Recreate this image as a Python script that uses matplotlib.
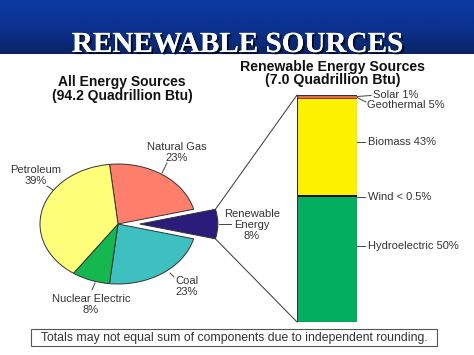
import matplotlib
matplotlib.use("Agg")
import matplotlib.pyplot as plt
import numpy as np
from matplotlib.patches import Rectangle, ConnectionPatch
from matplotlib.colors import LinearSegmentedColormap
import matplotlib.patheffects as pe

# ---- data ----
pie_labels = ["Natural Gas", "Renewable", "Coal", "Nuclear Electric", "Petroleum"]
pie_values = [23, 8, 23, 8, 39]
pie_colors = ["#FF7F6C", "#2B1B7A", "#3EC0C0", "#15B84E", "#FFFF7A"]
pie_explode = [0, 0.28, 0, 0, 0]

bar_segments = ["Hydroelectric", "Wind", "Biomass", "Geothermal", "Solar"]
bar_heights = [55.0, 0.8, 42.4, 0.6, 1.2]   # as drawn in picture
bar_colors = ["#02AF60", "#111111", "#FFF200", "#8A3A20", "#E8703C"]
bar_label_texts = ["Hydroelectric 50%", "Wind < 0.5%", "Biomass 43%", "Geothermal 5%", "Solar 1%"]

W, H = 474, 355
fig = plt.figure(figsize=(W / 100, H / 100), dpi=100)
fig.patch.set_facecolor("white")

# background axes in pixel coordinates
bg = fig.add_axes([0, 0, 1, 1])
bg.axis("off")
bg.set_zorder(0)

cmap = LinearSegmentedColormap.from_list("band", ["#0B3AA0", "#0B3290", "#0A2466"])
grad = np.linspace(0, 1, 100).reshape(-1, 1)
bg.imshow(grad, cmap=cmap, extent=[0, W, 54, 0], aspect="auto", zorder=0)
bg.set_xlim(0, W)
bg.set_ylim(H, 0)

bg.text(237, 44.5, "RENEWABLE SOURCES", color="white", fontsize=21, fontweight="bold",
        family="Liberation Serif", ha="center", va="center", zorder=5,
        path_effects=[pe.withSimplePatchShadow(offset=(1.5, -1.5), shadow_rgbFace="black", alpha=0.7),
                      pe.Normal()])

sans = "Liberation Sans"
bg.text(122, 89, "All Energy Sources\n(94.2 Quadrillion Btu)", fontsize=10.0, fontweight="bold",
        family=sans, ha="center", va="center", color="#111111", linespacing=0.95)
bg.text(333, 73.5, "Renewable Energy Sources\n(7.0 Quadrillion Btu)", fontsize=10.2, fontweight="bold",
        family=sans, ha="center", va="center", color="#111111", linespacing=0.95)

# pie labels
lab_kw = dict(fontsize=8.0, family=sans, ha="center", va="center", color="#333333", linespacing=1.12)
bg.text(177, 152.5, "Natural Gas\n23%", **lab_kw)
bg.text(36, 175.5, "Petroleum\n39%", **lab_kw)
bg.text(91, 304.5, "Nuclear Electric\n8%", **lab_kw)
bg.text(187, 286.5, "Coal\n23%", **lab_kw)
bg.text(252, 225, "Renewable\nEnergy\n8%", **lab_kw)
lk = dict(color="#444444", lw=0.7)
bg.plot([162, 167], [173, 163], **lk)
bg.plot([47, 53], [186, 190], **lk)
bg.plot([92, 95], [290, 283], **lk)
bg.plot([170, 174], [273, 277], **lk)
bg.plot([219, 231], [223.5, 223.5], **lk)

# footnote
bg.add_patch(Rectangle((31, 329), 406, 17, fill=False, edgecolor="#555555", lw=0.8))
bg.text(234, 337.8, "Totals may not equal sum of components due to independent rounding.",
        fontsize=8.8, family=sans, ha="center", va="center", color="#333333")

# ---- pie ----
cx, cy, rx, ry = 118, 224, 78, 60
k = 1.5
pax = fig.add_axes([(cx - rx * k) / W, (H - (cy + ry * k)) / H, 2 * rx * k / W, 2 * ry * k / H])
wedges, _ = pax.pie(pie_values, colors=pie_colors, explode=pie_explode, startangle=96.2,
                    counterclock=False, wedgeprops=dict(edgecolor="#333333", linewidth=0.7))
pax.set_aspect("auto")
pax.set_xlim(-k, k)
pax.set_ylim(-k, k)
pax.axis("off")
pax.set_zorder(2)

# ---- stacked bar ----
bx0, bx1, by0, by1 = 297, 357, 95, 322
bax = fig.add_axes([bx0 / W, (H - by1) / H, (bx1 - bx0) / W, (by1 - by0) / H])
bottom = 0
for h, c in zip(bar_heights, bar_colors):
    bax.bar(0.5, h, width=1.0, bottom=bottom, color=c, edgecolor="none")
    bottom += h
total = bottom
bax.add_patch(Rectangle((0, 0), 1, total, fill=False, edgecolor="#333333", lw=0.8))
bax.set_xlim(0, 1)
bax.set_ylim(0, total)
bax.axis("off")
bax.set_zorder(2)

# bar labels
bl_kw = dict(fontsize=8.0, family=sans, ha="left", va="center", color="#333333")
bg.text(373, 94.8, bar_label_texts[4], **bl_kw)
bg.text(367, 105.2, bar_label_texts[3], **bl_kw)
bg.text(368, 142, bar_label_texts[2], **bl_kw)
bg.text(368, 197, bar_label_texts[1], **bl_kw)
bg.text(368, 246, bar_label_texts[0], **bl_kw)
bg.plot([357, 371], [96.5, 95.5], **lk)
bg.plot([357, 366], [97.5, 102], **lk)
bg.plot([357, 365], [142, 142], **lk)
bg.plot([357, 365], [197, 197], **lk)
bg.plot([357, 365], [246, 246], **lk)

# connecting lines from renewable wedge to bar
w = wedges[1]
c0 = np.array(w.center)
t1, t2 = np.deg2rad(w.theta1), np.deg2rad(w.theta2)
p_top = c0 + w.r * np.array([np.cos(t2), np.sin(t2)])
p_bot = c0 + w.r * np.array([np.cos(t1), np.sin(t1)])
for p, yb in [(p_top, total), (p_bot, 0)]:
    con = ConnectionPatch(xyA=tuple(p), coordsA=pax.transData, xyB=(0, yb), coordsB=bax.transData,
                          color="#333333", lw=0.7)
    fig.add_artist(con)

fig.savefig("out.png", dpi=100)
